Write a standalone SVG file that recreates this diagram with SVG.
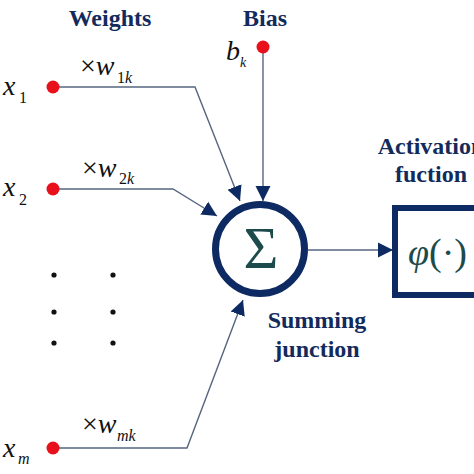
<svg xmlns="http://www.w3.org/2000/svg" width="474" height="474" viewBox="0 0 474 474">
<style>
.title{font-family:"Liberation Serif","Times New Roman",serif;font-weight:bold;font-size:24px;fill:#132b5c}
.m{font-family:"Liberation Serif","Times New Roman",serif;font-size:28px;fill:#111}
.i{font-style:italic}
.sub{font-size:16px}
.sk{font-size:14px}
.wire{fill:none;stroke:#56657f;stroke-width:1.4}
.dot{fill:#e8101a}
.el{fill:#111}
</style>
<defs>
<marker id="ah" markerUnits="userSpaceOnUse" markerWidth="16" markerHeight="16" viewBox="0 0 16 16" refX="15" refY="8" orient="auto">
<path d="M0,0.5 L15,8 L0,15.5 z" fill="#0e2a62"/>
</marker>
</defs>
<rect width="474" height="474" fill="#fff"/>
<g id="connectors">
<polyline class="wire" points="53,87 195,87 240,201" marker-end="url(#ah)"/>
<polyline class="wire" points="53,189 173,189 217,216" marker-end="url(#ah)"/>
<polyline class="wire" points="53,448 187,448 243,300" marker-end="url(#ah)"/>
<line class="wire" x1="263" y1="47" x2="263" y2="201" marker-end="url(#ah)"/>
<line class="wire" x1="308" y1="250" x2="393" y2="250" marker-end="url(#ah)"/>
</g>
<g id="label-weights"><text class="title" x="110" y="26" text-anchor="middle">Weights</text></g>
<g id="label-bias"><text class="title" x="265" y="26" text-anchor="middle">Bias</text></g>
<g id="input-x1">
<circle class="dot" cx="53" cy="87" r="6.5"/>
<text class="m i" x="3" y="95">x</text>
<text class="m sub" x="19" y="103">1</text>
<text class="m" x="80" y="75">×<tspan class="i">w</tspan></text>
<text class="m sub" x="117" y="83">1<tspan class="i">k</tspan></text>
</g>
<g id="input-x2">
<circle class="dot" cx="53" cy="189" r="6.5"/>
<text class="m i" x="3" y="196">x</text>
<text class="m sub" x="19" y="205">2</text>
<text class="m" x="82" y="177">×<tspan class="i">w</tspan></text>
<text class="m sub" x="119" y="184">2<tspan class="i">k</tspan></text>
</g>
<g id="ellipsis">
<circle class="el" cx="54" cy="275" r="2.6"/>
<circle class="el" cx="113" cy="275" r="2.6"/>
<circle class="el" cx="54" cy="312" r="2.6"/>
<circle class="el" cx="113" cy="312" r="2.6"/>
<circle class="el" cx="54" cy="343" r="2.6"/>
<circle class="el" cx="113" cy="343" r="2.6"/>
</g>
<g id="input-xm">
<circle class="dot" cx="53" cy="448" r="6.5"/>
<text class="m i" x="3" y="457">x</text>
<text class="m sub i" x="18" y="464">m</text>
<text class="m" x="82" y="433">×<tspan class="i">w</tspan></text>
<text class="m sub i" x="117" y="441">mk</text>
</g>
<g id="input-bias">
<circle class="dot" cx="263" cy="47" r="6.5"/>
<text class="m i" x="226" y="60">b</text>
<text class="m i sk" x="240" y="67">k</text>
</g>
<g id="summing-junction">
<circle cx="260" cy="249" r="44.5" fill="#fff" stroke="#0e2a62" stroke-width="7"/>
<text x="261" y="268" text-anchor="middle" font-family="Liberation Serif,serif" font-size="60" fill="#1d4a4a">Σ</text>
<text class="title" x="317" y="328" text-anchor="middle">Summing</text>
<text class="title" x="317" y="357" text-anchor="middle">junction</text>
</g>
<g id="activation-function">
<text class="title" x="431" y="154" text-anchor="middle">Activation</text>
<text class="title" x="431" y="182" text-anchor="middle">fuction</text>
<rect x="395" y="208" width="120" height="87" fill="#fff" stroke="#0e2a62" stroke-width="6"/>
<text x="408" y="265" font-family="Liberation Serif,serif" font-size="38" fill="#1d4a4a"><tspan font-style="italic">φ</tspan>(·)</text>
</g>
</svg>
